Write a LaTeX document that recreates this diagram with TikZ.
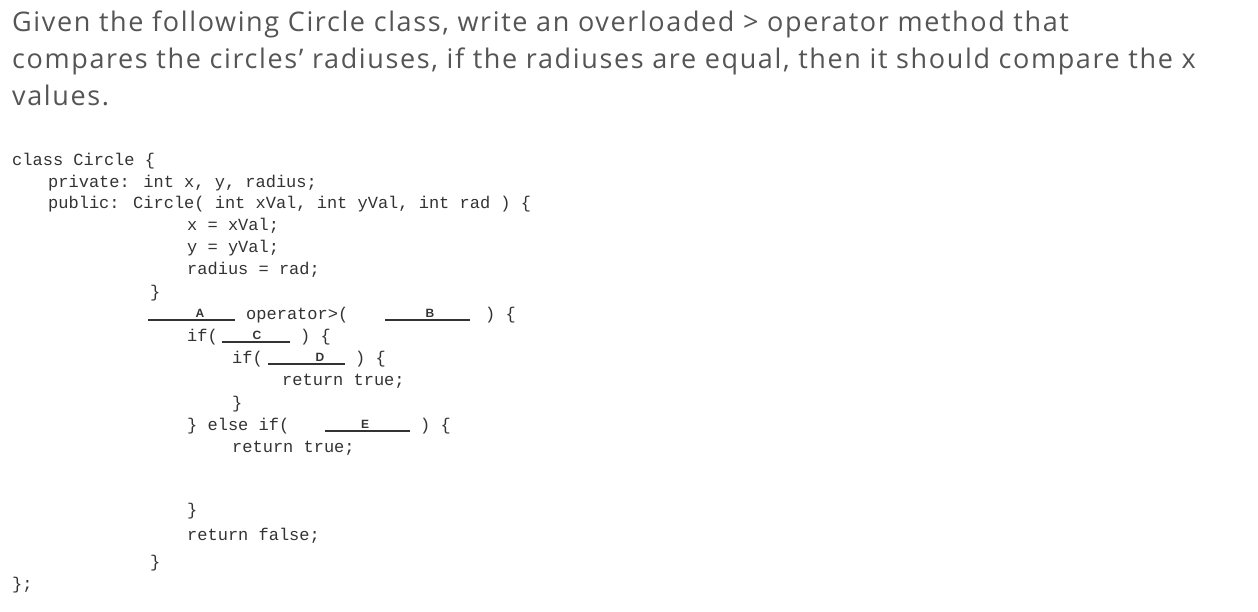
\documentclass[tikz,border=0pt]{standalone}
\usepackage{fontspec}
\setmainfont{Open Sans}[LetterSpace=6]
\newfontfamily\codefont{Liberation Mono}
\newfontfamily\lblfont{Liberation Sans}
\definecolor{hdr}{HTML}{555555}
\definecolor{cd}{HTML}{333333}
\begin{document}
\begin{tikzpicture}[x=1pt,y=-1pt,
  hd/.style={anchor=base west,inner sep=0,text=hdr,font=\fontsize{27}{31}\selectfont},
  cl/.style={anchor=base west,inner sep=0,text=cd,font=\codefont\fontsize{17}{20}\selectfont},
  blank/.style={draw=cd,line width=1.2pt},
  lb/.style={anchor=base,inner sep=0,text=cd,font=\lblfont\bfseries\fontsize{12}{14}\selectfont}]
\fill[white] (0,0) rectangle (1258,611);
\node[hd] (h1) at (12,31) {Given the following Circle class, write an overloaded > operator method that};
\node[hd] (h2) at (12,68) {compares the circles' radiuses, if the radiuses are equal, then it should compare the x};
\node[hd] (h3) at (12,105) {values.};
\node[cl] (c1) at (12,165) {class Circle \{};
\node[cl] (c2) at (48,187) {private: int x, y, radius;};
\node[cl] (c3) at (48,208) {public: Circle( int xVal, int yVal, int rad ) \{};
\node[cl] (c4) at (187,230) {x = xVal;};
\node[cl] (c5) at (187,252) {y = yVal;};
\node[cl] (c6) at (187,274) {radius = rad;};
\node[cl] (c7) at (150,297) {\}};
\draw[blank] (148,320) -- (235,320); \node[lb] (A) at (200,317) {A};
\node[cl] (c8) at (246,319) {operator>(};
\draw[blank] (385,320) -- (470,320); \node[lb] (B) at (430,317) {B};
\node[cl] (c8b) at (485,319) {) \{};
\node[cl] (c9) at (187,341) {if(};
\draw[blank] (222,342) -- (290,342); \node[lb] (C) at (257,339) {C};
\node[cl] (c9b) at (300,341) {) \{};
\node[cl] (c10) at (232,363) {if(};
\draw[blank] (268,364) -- (345,364); \node[lb] (D) at (320,361) {D};
\node[cl] (c10b) at (355,363) {) \{};
\node[cl] (c11) at (282,385) {return true;};
\node[cl] (c12) at (232,408) {\}};
\node[cl] (c13) at (187,430) {\} else if(};
\draw[blank] (325,431) -- (410,431); \node[lb] (E) at (365,428) {E};
\node[cl] (c13b) at (420,430) {) \{};
\node[cl] (c14) at (232,452) {return true;};
\node[cl] (c15) at (187,515) {\}};
\node[cl] (c16) at (187,540) {return false;};
\node[cl] (c17) at (150,567) {\}};
\node[cl] (c18) at (12,589) {\};};
\end{tikzpicture}
\end{document}
